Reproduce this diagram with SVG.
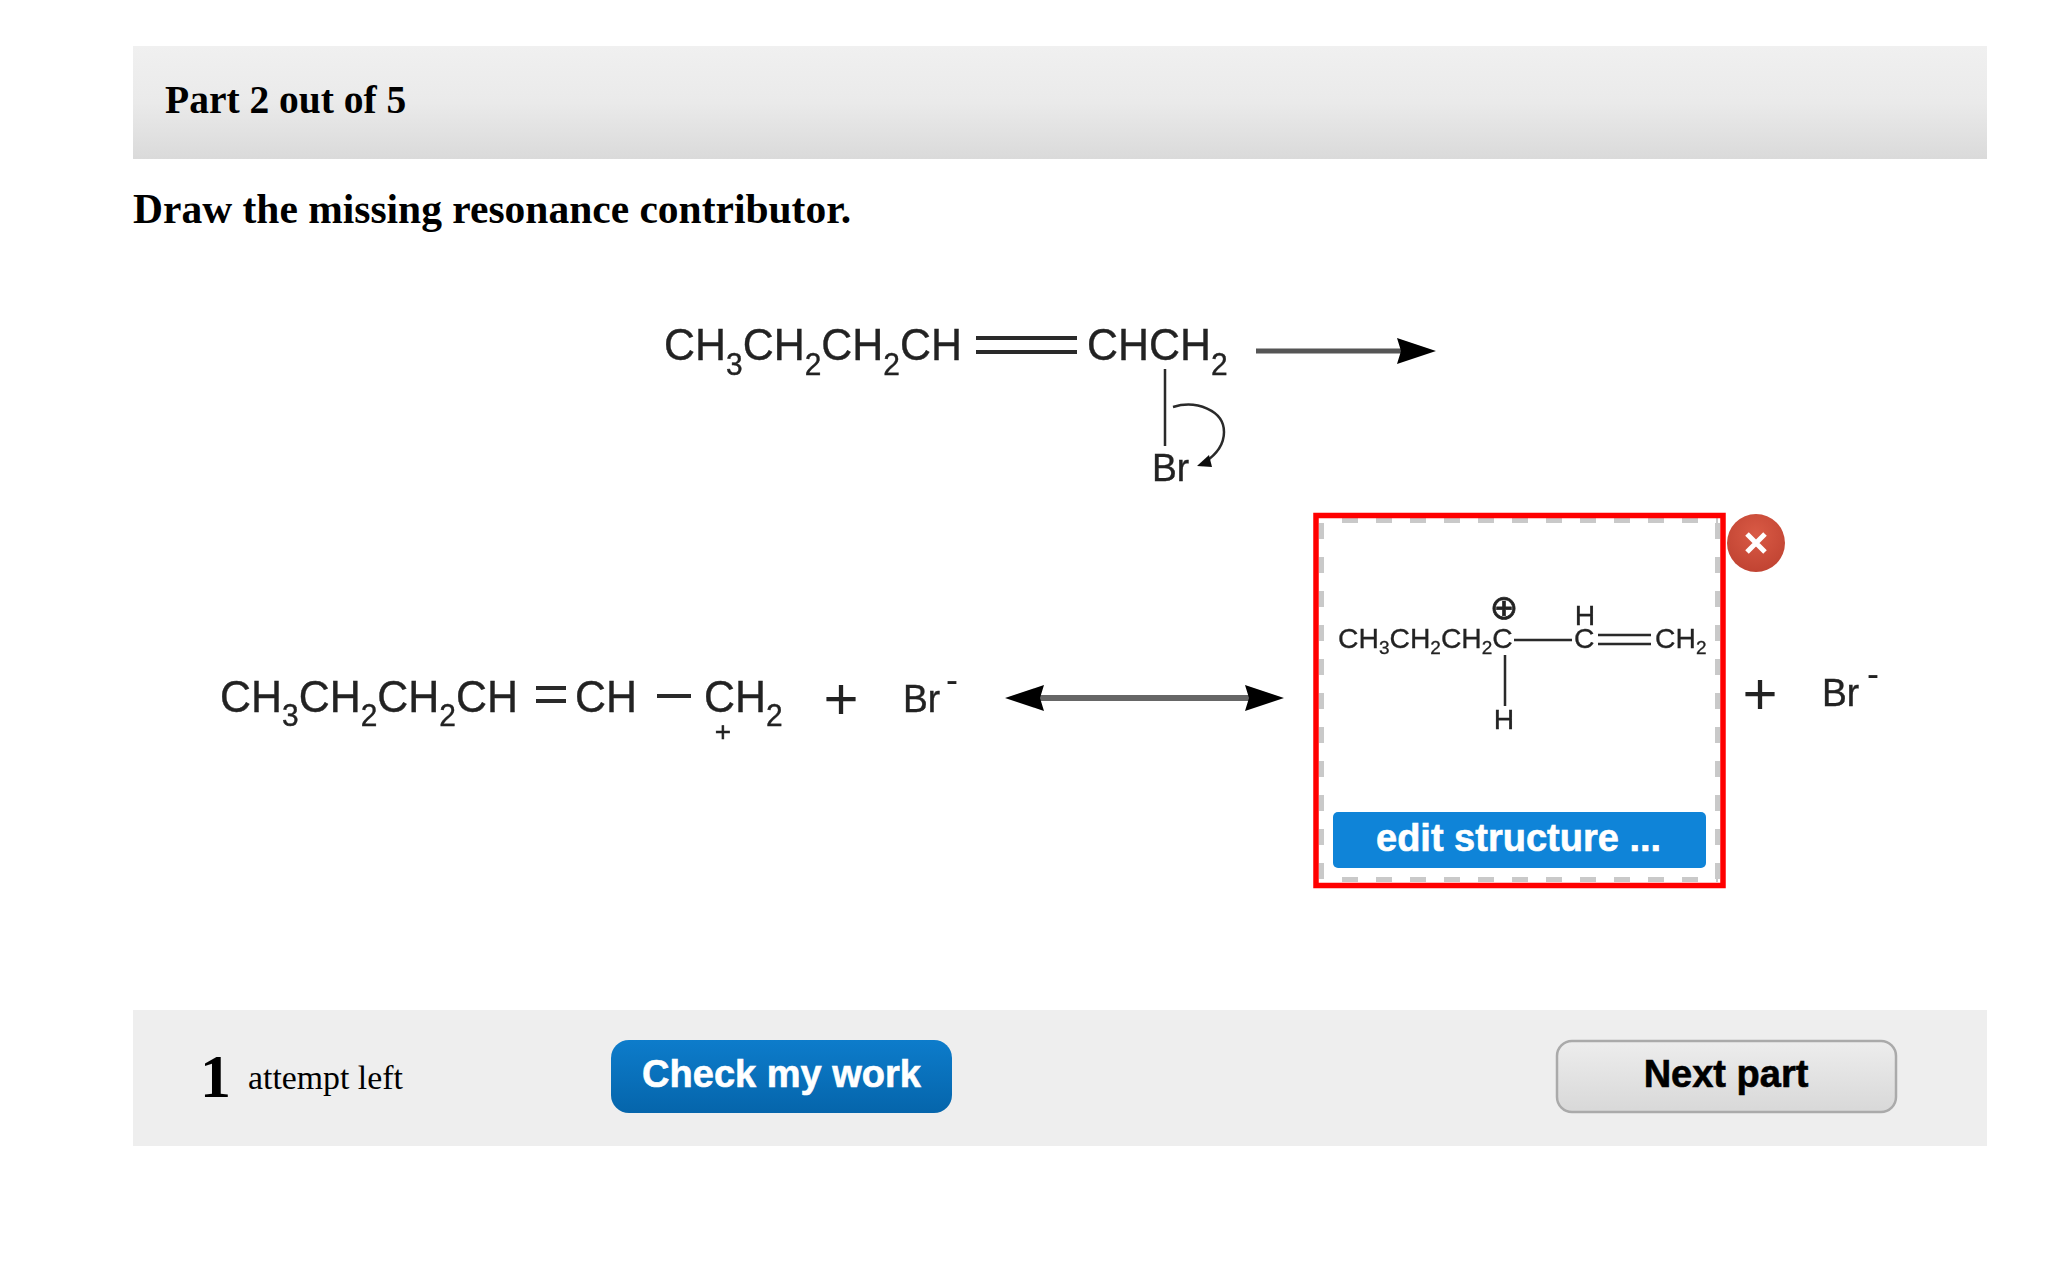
<svg xmlns="http://www.w3.org/2000/svg" width="2046" height="1276" viewBox="0 0 2046 1276">
<defs>
<style>
.serif{font-family:"Liberation Serif","Times New Roman",serif;fill:#000}
.b{font-weight:700}
.chem{font-family:"Liberation Sans",Arial,sans-serif;fill:#222;font-size:44.500px;stroke:#222;stroke-width:0.400}
.sub{font-size:31px}
.chem2{font-family:"Liberation Sans",Arial,sans-serif;fill:#222;font-size:28.300px;stroke:#222;stroke-width:0.300}
.sub2{font-size:19px}
.br{font-size:39px}
.thin{stroke-width:0}
.btn{font-family:"Liberation Sans",Arial,sans-serif;font-weight:700;font-size:38px;stroke-width:0.600}
.bond{stroke:#2b2b2b;fill:none}
.arrow{stroke:#555;stroke-width:5;fill:none}
.dash{stroke:#c9c9c9;stroke-width:5;fill:none;stroke-dasharray:16 18}
.soft{filter:url(#soft)}
</style>
<filter id="soft" x="-5%" y="-5%" width="110%" height="110%"><feGaussianBlur stdDeviation="0.700"/></filter>
<linearGradient id="hdr" x1="0" y1="0" x2="0" y2="1"><stop offset="0" stop-color="#f0f0f0"/><stop offset="0.5" stop-color="#eaeaea"/><stop offset="1" stop-color="#dadada"/></linearGradient>
<linearGradient id="blue" x1="0" y1="0" x2="0" y2="1"><stop offset="0" stop-color="#0d7ccb"/><stop offset="1" stop-color="#0565ab"/></linearGradient>
<linearGradient id="grey" x1="0" y1="0" x2="0" y2="1"><stop offset="0" stop-color="#ededed"/><stop offset="1" stop-color="#d8d8d8"/></linearGradient>
<radialGradient id="red" cx="0.5" cy="0.35" r="0.7"><stop offset="0" stop-color="#d95a45"/><stop offset="1" stop-color="#bf4231"/></radialGradient>
<marker id="head" markerUnits="userSpaceOnUse" markerWidth="42" markerHeight="28" refX="4" refY="14" orient="auto-start-reverse" viewBox="0 0 42 28"><path d="M0,1 L39,14 L0,27 L4,14 Z" fill="#000"/></marker>
</defs>
<rect width="2046" height="1276" fill="#fff"/>

<g id="header">
<rect x="133" y="46" width="1854" height="113" fill="url(#hdr)"/>
<text class="serif b" x="165" y="113" font-size="39.500">Part 2 out of 5</text>
</g>
<g id="prompt">
<text class="serif b" x="133" y="223" font-size="41.500">Draw the missing resonance contributor.</text>
</g>

<g id="reactant" class="soft">
<text class="chem" transform="translate(664,360) scale(.965,1)">CH<tspan class="sub" dy="15">3</tspan><tspan dy="-15">CH</tspan><tspan class="sub" dy="15">2</tspan><tspan dy="-15">CH</tspan><tspan class="sub" dy="15">2</tspan><tspan dy="-15">CH</tspan></text>
<text class="chem" transform="translate(1087,360) scale(.965,1)">CHCH<tspan class="sub" dy="15">2</tspan></text>
<text class="chem br" transform="translate(1152,481) scale(.953,1)">Br</text>
</g>

<g id="allyl-cation" class="soft">
<text class="chem" transform="translate(220,712) scale(.965,1)">CH<tspan class="sub" dy="14">3</tspan><tspan dy="-14">CH</tspan><tspan class="sub" dy="14">2</tspan><tspan dy="-14">CH</tspan><tspan class="sub" dy="14">2</tspan><tspan dy="-14">CH</tspan></text>
<text class="chem" transform="translate(575,712) scale(.965,1)">CH</text>
<text class="chem" transform="translate(704,712) scale(.965,1)">CH<tspan class="sub" dy="14">2</tspan></text>
<text class="chem" x="723" y="741" text-anchor="middle" style="font-size:28px">+</text>
</g>

<g id="plus-left" class="soft">
<text class="chem thin" x="841" y="719" text-anchor="middle" style="font-size:60px">+</text>
</g>
<g id="bromide-left" class="soft">
<text class="chem br" transform="translate(903,712) scale(.953,1)">Br</text>
<text class="chem thin" x="952" y="692" text-anchor="middle" style="font-size:36px">-</text>
</g>

<g id="answer">
<rect x="1316" y="516" width="407" height="369" fill="#fff"/>
<path class="dash" d="M1342 520.500H1718"/>
<path class="dash" d="M1342 879.500H1718"/>
<path class="dash" d="M1321.500 523V880"/>
<path class="dash" d="M1717.500 523V880"/>
<rect x="1316" y="515.500" width="407" height="370" fill="none" stroke="#f00" stroke-width="5.500"/>
<g class="soft">
<text class="chem2" x="1338" y="648">CH<tspan class="sub2" dy="6">3</tspan><tspan dy="-6">CH</tspan><tspan class="sub2" dy="6">2</tspan><tspan dy="-6">CH</tspan><tspan class="sub2" dy="6">2</tspan><tspan dy="-6">C</tspan></text>
<text class="chem2" x="1574" y="648">C</text>
<text class="chem2" x="1655" y="648">CH<tspan class="sub2" dy="6">2</tspan></text>
<text class="chem2" x="1585" y="625" text-anchor="middle">H</text>
<text class="chem2" x="1504" y="729" text-anchor="middle">H</text>
<text x="1504" y="619" text-anchor="middle" font-family="DejaVu Sans, sans-serif" font-size="34" fill="#222" stroke="#222" stroke-width="0.700">⊕</text>
</g>
<rect x="1333" y="812" width="373" height="56" rx="5" fill="#0f84d8"/>
<text class="btn" x="1376" y="851" fill="#fff" stroke="#fff">edit structure ...</text>
</g>

<g id="remove-button">
<circle cx="1756" cy="543" r="29" fill="url(#red)"/>
<path d="M1747 534L1765 552M1765 534L1747 552" stroke="#fff" stroke-width="5" fill="none"/>
</g>

<g id="plus-right" class="soft">
<text class="chem thin" x="1760" y="714" text-anchor="middle" style="font-size:60px">+</text>
</g>
<g id="bromide-right" class="soft">
<text class="chem br" transform="translate(1822,706) scale(.953,1)">Br</text>
<text class="chem thin" x="1873" y="686" text-anchor="middle" style="font-size:36px">-</text>
</g>

<g id="connectors" class="soft">
<path class="bond" stroke-width="4" d="M976 338H1077M976 352H1077"/>
<path class="bond" stroke-width="2.500" d="M1165 369V446"/>
<path class="arrow" d="M1256 351H1401" marker-end="url(#head)"/>
<path class="bond" stroke-width="2.500" d="M1173 407C1196 400 1224 410 1224 432C1224 446 1214 456 1205 462"/>
<path d="M1197 466L1212 467L1209 455Z" fill="#111"/>
<path class="bond" stroke-width="4" d="M536 688H566M536 701H566M657 696H691"/>
<path class="arrow" style="stroke-width:6;stroke:#666" d="M1040 698H1249" marker-start="url(#head)" marker-end="url(#head)"/>
<path class="bond" stroke-width="2.500" d="M1514 640H1572M1598 635H1651M1598 644H1651M1505 655V706"/>
</g>

<g id="footer">
<rect x="133" y="1010" width="1854" height="136" fill="#eee"/>
<text class="serif b" x="200" y="1097" font-size="62">1</text>
<text class="serif" x="248" y="1089" font-size="33.800">attempt left</text>
</g>
<g id="check-my-work">
<rect x="611" y="1040" width="341" height="73" rx="18" fill="url(#blue)"/>
<text class="btn" x="781.500" y="1087" text-anchor="middle" fill="#fff" stroke="#fff">Check my work</text>
</g>
<g id="next-part">
<rect x="1557" y="1041" width="339" height="71" rx="15" fill="url(#grey)" stroke="#aaa" stroke-width="2.500"/>
<text class="btn" x="1726" y="1087" text-anchor="middle" fill="#000" stroke="#000">Next part</text>
</g>
</svg>
